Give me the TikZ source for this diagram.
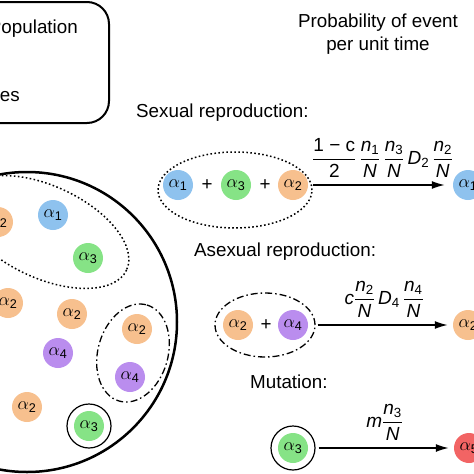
\documentclass[tikz,border=0pt]{standalone}
\usepackage{fix-cm}
\usepackage{amsmath}
\usepackage{fontspec}
\setmainfont{Liberation Sans}
\usetikzlibrary{arrows.meta,shapes.geometric}
\definecolor{spblue}{HTML}{8EC2EE}
\definecolor{spgreen}{HTML}{86E386}
\definecolor{sporange}{HTML}{F7C08E}
\definecolor{sppurple}{HTML}{BA8DEE}
\definecolor{spred}{HTML}{F26464}
\newcommand{\al}[1]
        {$\alpha_{\text{#1}}$}
\newcommand{\nN}[1]
        {\dfrac{\textit{n}_{\text{#1}}}{\textit{N}}}

\tikzset{
  sp/.style={circle, fill=#1, minimum size=30pt, inner sep=0pt, font=\fontsize{18}{20}\selectfont},
  lbl/.style={anchor=west, inner sep=0pt},
  rate/.style={-{Latex[length=13pt,width=8pt]}, line width=1.5pt},
  formula/.style={font=\fontsize{19}{21}\selectfont, inner sep=0pt},
  dots/.style={line width=1.5pt, dash pattern=on 1.6pt off 2.4pt},
  dashdots/.style={line width=1.3pt, dash pattern=on 7pt off 3pt on 1.5pt off 3pt},
}

\begin{document}
\begin{tikzpicture}[x=1pt, y=-1pt, font=\fontsize{18.8}{23}\selectfont]
\useasboundingbox (0,0) rectangle (474,474);
\clip (0,0) rectangle (474,474);

\draw[line width=2pt, rounded corners=22pt] (-60,2) rectangle (109,123);
\node[anchor=east, inner sep=0pt] (poptitle) at (78,29) {Population};
\node[anchor=east, inner sep=0pt] (speclbl) at (20,97) {es};
\node[align=center, inner sep=0pt] (probhead) at (378,34) {Probability of event\\per unit time};

\draw[line width=2.5pt] (27,322) circle (150);
\node[sp=sporange] (p2a) at (-2,222) {\al2};
\node[sp=spblue] (p1) at (53,215) {\al1};
\node[sp=spgreen] (p3a) at (88,258) {\al3};
\node[sp=sporange] (p2b) at (8,303) {\al2};
\node[sp=sporange] (p2c) at (72,314) {\al2};
\node[sp=sppurple] (p4a) at (58,353) {\al4};
\node[sp=sporange] (p2d) at (27,407) {\al2};
\node[sp=spgreen] (p3b) at (89,426) {\al3};
\node[sp=sporange] (p2e) at (137,329) {\al2};
\node[sp=sppurple] (p4b) at (130,377) {\al4};
\draw[dots, rotate around={-25:(45,232)}] (45,232) ellipse (90 and 46);
\draw[dashdots, rotate around={74:(133,353)}] (133,353) ellipse (50 and 35);
\draw[line width=1.2pt] (p3b.center) circle (22);

\node[lbl] (sexlbl) at (136,113) {Sexual reproduction:};
\node[draw, ellipse, dots, minimum width=154pt, minimum height=76pt] (spair) at (235,190) {};
\node[sp=spblue] (s1) at (178,185) {\al1};
\node (splus1) at (207,185) {+};
\node[sp=spgreen] (s3) at (236,185) {\al3};
\node (splus2) at (265,185) {+};
\node[sp=sporange] (s2) at (293,185) {\al2};
\node[sp=spblue] (s1r) at (468,185) {\al1};
\draw[rate, shorten >=8pt] (spair.east |- s1r) -- node[formula, above=7pt]
  {$\dfrac{\text{1 − c}}{\text{2}}\,\nN{1}\,\nN{3}\,\textit{D}_{\text{2}}\,\nN{2}$} (s1r.west);

\node[lbl] (asexlbl) at (194,252) {Asexual reproduction:};
\node[draw, ellipse, dashdots, minimum width=100pt, minimum height=64pt] (apair) at (265,325) {};
\node[sp=sporange] (a2) at (238,325) {\al2};
\node (aplus) at (266,325) {+};
\node[sp=sppurple] (a4) at (293,325) {\al4};
\node[sp=sporange] (a2r) at (468,325) {\al2};
\draw[rate, shorten <=2pt, shorten >=5pt] (apair.east) -- node[formula, above=7pt]
  {$\textit{c}\nN{2}\,\textit{D}_{\text{4}}\,\nN{4}$} (a2r.west);

\node[lbl] (mutlbl) at (250,382) {Mutation:};
\node[sp=spgreen] (m3) at (293,448) {\al3};
\node[draw, circle, line width=1.2pt, minimum size=44pt, inner sep=0pt] (m3ring) at (m3) {};
\node[sp=spred] (m5r) at (469,448) {\al5};
\draw[rate, shorten <=3pt, shorten >=5pt] (m3ring.east) -- node[formula, above=7pt]
  {$\textit{m}\nN{3}$} (m5r.west);
\end{tikzpicture}
\end{document}
